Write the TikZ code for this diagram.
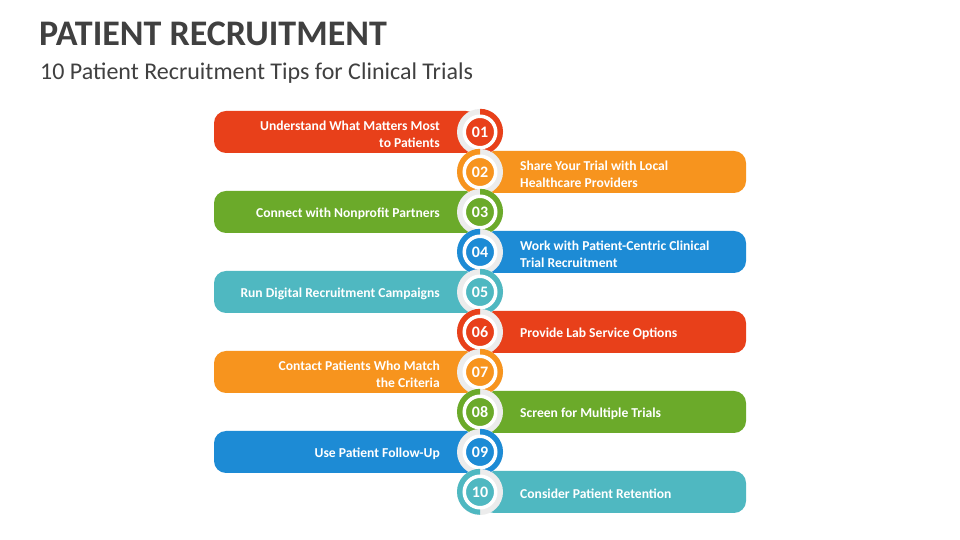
\documentclass[tikz,border=0pt]{standalone}
\usepackage{fontspec}
\setmainfont{Carlito}
\definecolor{tipred}{HTML}{E8401A}
\definecolor{tiporange}{HTML}{F7941E}
\definecolor{tipgreen}{HTML}{6BAA2A}
\definecolor{tipblue}{HTML}{1D8BD5}
\definecolor{tipteal}{HTML}{4FB8C1}
\definecolor{ringgray}{HTML}{ECECEC}
\definecolor{headgray}{HTML}{404040}

\begin{document}
\begin{tikzpicture}[x=1pt,y=1pt]
\tikzset{
  tipbar/.style={rectangle,rounded corners=12pt,minimum width=264pt,minimum height=42pt,inner sep=0pt},
  tipring/.style={circle,fill=ringgray,minimum size=46pt,inner sep=0pt},
  tipdisc/.style={circle,draw=white,line width=3.5pt,minimum size=31.5pt,inner sep=0pt,text=white,font=\bfseries\fontsize{16}{16}\selectfont},
  lefttext/.style={anchor=east,align=right,inner sep=0pt,yshift=-2pt,text=white,font=\bfseries\fontsize{13.6}{17}\selectfont},
  righttext/.style={anchor=west,align=left,inner sep=0pt,yshift=-2pt,text=white,font=\bfseries\fontsize{13.6}{17}\selectfont}
}
\useasboundingbox (0,0) rectangle (960,540);
\fill[white] (0,0) rectangle (960,540);

% headings
\node[anchor=base west,inner sep=0pt,text=headgray,font=\bfseries\fontsize{36}{42}\selectfont] (title) at (39,494) {PATIENT RECRUITMENT};
\node[anchor=base west,inner sep=0pt,text=headgray,font=\fontsize{24}{28}\selectfont] (subtitle) at (40,460) {10 Patient Recruitment Tips for Clinical Trials};

% bars
\node[tipbar,fill=tipred] (b_01) at (346,408) {};
\node[tipbar,fill=tiporange] (b_02) at (614,368) {};
\node[tipbar,fill=tipgreen] (b_03) at (346,328) {};
\node[tipbar,fill=tipblue] (b_04) at (614,288) {};
\node[tipbar,fill=tipteal] (b_05) at (346,248) {};
\node[tipbar,fill=tipred] (b_06) at (614,208) {};
\node[tipbar,fill=tiporange] (b_07) at (346,168) {};
\node[tipbar,fill=tipgreen] (b_08) at (614,128) {};
\node[tipbar,fill=tipblue] (b_09) at (346,88) {};
\node[tipbar,fill=tipteal] (b_10) at (614,48) {};

% bar texts
\node[lefttext] (t_01) at (440,408) {Understand What Matters Most\\to Patients};
\node[righttext] (t_02) at (520,368) {Share Your Trial with Local\\Healthcare Providers};
\node[lefttext] (t_03) at (440,328) {Connect with Nonprofit Partners};
\node[righttext] (t_04) at (520,288) {Work with Patient-Centric Clinical\\Trial Recruitment};
\node[lefttext] (t_05) at (440,248) {Run Digital Recruitment Campaigns};
\node[righttext] (t_06) at (520,208) {Provide Lab Service Options};
\node[lefttext] (t_07) at (440,168) {Contact Patients Who Match\\the Criteria};
\node[righttext] (t_08) at (520,128) {Screen for Multiple Trials};
\node[lefttext] (t_09) at (440,88) {Use Patient Follow-Up};
\node[righttext] (t_10) at (520,48) {Consider Patient Retention};

% number rings
\node[tipring] (r_01) at (480,408) {};
\fill[tipred] (r_01.north) arc[start angle=90,end angle=-90,radius=23pt] -- cycle;
\node[tipdisc,fill=tipred] (n_01) at (r_01) {01};
\node[tipring] (r_02) at (480,368) {};
\fill[tiporange] (r_02.north) arc[start angle=90,end angle=270,radius=23pt] -- cycle;
\node[tipdisc,fill=tiporange] (n_02) at (r_02) {02};
\node[tipring] (r_03) at (480,328) {};
\fill[tipgreen] (r_03.north) arc[start angle=90,end angle=-90,radius=23pt] -- cycle;
\node[tipdisc,fill=tipgreen] (n_03) at (r_03) {03};
\node[tipring] (r_04) at (480,288) {};
\fill[tipblue] (r_04.north) arc[start angle=90,end angle=270,radius=23pt] -- cycle;
\node[tipdisc,fill=tipblue] (n_04) at (r_04) {04};
\node[tipring] (r_05) at (480,248) {};
\fill[tipteal] (r_05.north) arc[start angle=90,end angle=-90,radius=23pt] -- cycle;
\node[tipdisc,fill=tipteal] (n_05) at (r_05) {05};
\node[tipring] (r_06) at (480,208) {};
\fill[tipred] (r_06.north) arc[start angle=90,end angle=270,radius=23pt] -- cycle;
\node[tipdisc,fill=tipred] (n_06) at (r_06) {06};
\node[tipring] (r_07) at (480,168) {};
\fill[tiporange] (r_07.north) arc[start angle=90,end angle=-90,radius=23pt] -- cycle;
\node[tipdisc,fill=tiporange] (n_07) at (r_07) {07};
\node[tipring] (r_08) at (480,128) {};
\fill[tipgreen] (r_08.north) arc[start angle=90,end angle=270,radius=23pt] -- cycle;
\node[tipdisc,fill=tipgreen] (n_08) at (r_08) {08};
\node[tipring] (r_09) at (480,88) {};
\fill[tipblue] (r_09.north) arc[start angle=90,end angle=-90,radius=23pt] -- cycle;
\node[tipdisc,fill=tipblue] (n_09) at (r_09) {09};
\node[tipring] (r_10) at (480,48) {};
\fill[tipteal] (r_10.north) arc[start angle=90,end angle=270,radius=23pt] -- cycle;
\node[tipdisc,fill=tipteal] (n_10) at (r_10) {10};
\end{tikzpicture}
\end{document}
